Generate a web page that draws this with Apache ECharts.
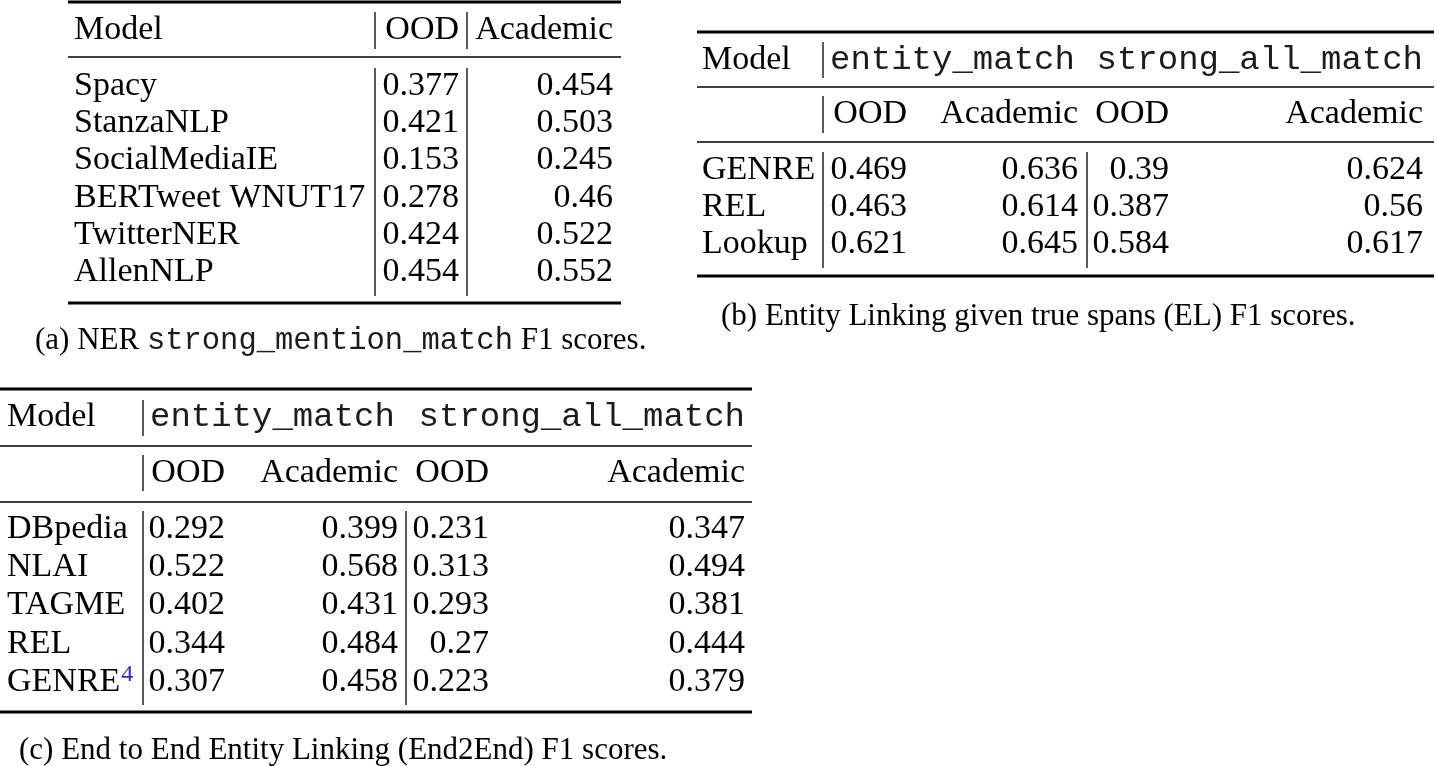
<!DOCTYPE html>
<html>
<head>
<meta charset="utf-8">
<script src="https://cdn.jsdelivr.net/npm/echarts@6/dist/echarts.min.js"></script>
<style>
html,body{margin:0;padding:0;background:#fff;}
#chart{width:1436px;height:766px;}
</style>
</head>
<body>
<div id="chart"></div>
<script>
// ---------------- DATA ----------------
const nerModels = ['Spacy', 'StanzaNLP', 'SocialMediaIE', 'BERTweet WNUT17', 'TwitterNER', 'AllenNLP'];
const nerOOD = [0.377, 0.421, 0.153, 0.278, 0.424, 0.454];
const nerAcademic = [0.454, 0.503, 0.245, 0.46, 0.522, 0.552];

const elModels = ['GENRE', 'REL', 'Lookup'];
const elEntityOOD = [0.469, 0.463, 0.621];
const elEntityAcademic = [0.636, 0.614, 0.645];
const elStrongOOD = [0.39, 0.387, 0.584];
const elStrongAcademic = [0.624, 0.56, 0.617];

const e2eModels = ['DBpedia', 'NLAI', 'TAGME', 'REL', 'GENRE'];
const e2eFootnotes = ['', '', '', '', '4'];
const e2eEntityOOD = [0.292, 0.522, 0.402, 0.344, 0.307];
const e2eEntityAcademic = [0.399, 0.568, 0.431, 0.484, 0.458];
const e2eStrongOOD = [0.231, 0.313, 0.293, 0.27, 0.223];
const e2eStrongAcademic = [0.347, 0.494, 0.381, 0.444, 0.379];

const modelHeader = 'Model';
const metricHeaders = ['entity_match', 'strong_all_match'];
const splitHeaders = ['OOD', 'Academic'];
const nerMetric = 'strong_mention_match';
const captionA = ['(a) NER ', nerMetric, ' F1 scores.'];
const captionB = '(b) Entity Linking given true spans (EL) F1 scores.';
const captionC = '(c) End to End Entity Linking (End2End) F1 scores.';

// ---------------- STYLE / LAYOUT ----------------
const SERIF = '"Liberation Serif", "Times New Roman", serif';
const MONO = '"Liberation Mono", "Courier New", monospace';
const FS = 34, FS_MONO = 34, FS_CAP = 31, FS_CAP_MONO = 30.5;
const INK = '#000';
const MONO_INK = '#1c1c1c';
const THICK = 2.8, THIN = 1.5, VLW = 1.3;

const tables = [
  { // (a)
    left: 68, right: 621, nameX: 74,
    models: nerModels, notes: null,
    rowFirst: 86, rowLast: 272,
    rules: [[2, THICK], [57, THIN], [303, THICK]],
    cols: [{ x: 459, v: nerOOD }, { x: 613, v: nerAcademic }],
    vlines: [[375, [[12, 49], [68, 296]]], [467, [[12, 49], [68, 296]]]]
  },
  { // (b)
    left: 697, right: 1434, nameX: 702,
    models: elModels, notes: null,
    rowFirst: 170, rowLast: 244,
    rules: [[32, THICK], [87, THIN], [142, THIN], [276, THICK]],
    cols: [{ x: 907, v: elEntityOOD }, { x: 1078, v: elEntityAcademic },
           { x: 1169, v: elStrongOOD }, { x: 1423, v: elStrongAcademic }],
    vlines: [[823, [[42, 78], [96, 133], [152, 268]]], [1087, [[152, 268]]]]
  },
  { // (c)
    left: 0, right: 752, nameX: 7,
    models: e2eModels, notes: e2eFootnotes,
    rowFirst: 529, rowLast: 682,
    rules: [[389, THICK], [446, THIN], [502, THIN], [712, THICK]],
    cols: [{ x: 225, v: e2eEntityOOD }, { x: 398, v: e2eEntityAcademic },
           { x: 489, v: e2eStrongOOD }, { x: 745, v: e2eStrongAcademic }],
    vlines: [[143, [[400, 436], [455, 491], [511, 705]]], [406, [[511, 705]]]]
  }
];

// ---------------- BUILD ----------------
const grid = [], xAxis = [], yAxis = [], series = [], elements = [];

function txt(x, y, text, opts) {
  elements.push({
    type: 'text', x: x, y: y, silent: true,
    style: Object.assign({
      text: text, fill: INK, fontFamily: SERIF, fontSize: FS,
      align: 'left', verticalAlign: 'middle'
    }, opts || {})
  });
}
function line(x1, y1, x2, y2, w) {
  elements.push({
    type: 'line', silent: true,
    shape: { x1: x1, y1: y1, x2: x2, y2: y2 },
    style: { stroke: INK, lineWidth: w }
  });
}

const labelBase = {
  show: true, position: 'inside', verticalAlign: 'middle',
  color: INK, fontFamily: SERIF, fontSize: FS, fontWeight: 'normal',
  opacity: 1, textBorderWidth: 0, textBorderColor: 'transparent',
  textShadowBlur: 0, textShadowColor: 'transparent'
};

tables.forEach((t, gi) => {
  const n = t.models.length;
  const band = (t.rowLast - t.rowFirst) / (n - 1);
  const W = t.right - t.left;
  grid.push({ left: t.left, top: t.rowFirst - band / 2, width: W, height: band * n });
  xAxis.push({ type: 'value', gridIndex: gi, min: 0, max: W, show: false });
  yAxis.push({ type: 'category', gridIndex: gi, inverse: true, data: t.models, show: false,
               boundaryGap: true });

  // model names
  series.push({
    type: 'scatter', xAxisIndex: gi, yAxisIndex: gi, symbolSize: 0, silent: true,
    itemStyle: { color: INK, opacity: 1 },
    data: t.models.map((m, i) => [t.nameX - t.left, i]),
    label: Object.assign({}, labelBase, {
      align: 'left',
      formatter: p => {
        const note = t.notes ? t.notes[p.dataIndex] : '';
        return note ? t.models[p.dataIndex] + '{s|' + note + '}' : t.models[p.dataIndex];
      },
      rich: { s: { fontSize: 24, color: '#2a2ad8', fontFamily: SERIF, verticalAlign: 'top',
                   lineHeight: 38, padding: [0, 0, 0, 1] } }
    })
  });
  // value columns
  t.cols.forEach(c => {
    series.push({
      type: 'scatter', xAxisIndex: gi, yAxisIndex: gi, symbolSize: 0, silent: true,
      itemStyle: { color: INK, opacity: 1 },
      data: c.v.map((v, i) => [c.x - t.left, i, v]),
      label: Object.assign({}, labelBase, {
        align: 'right',
        formatter: p => String(p.value[2])
      })
    });
  });
  // rules
  t.rules.forEach(r => line(t.left, r[0], t.right, r[0], r[1]));
  // vertical lines
  t.vlines.forEach(v => v[1].forEach(seg => line(v[0], seg[0], v[0], seg[1], VLW)));
});

// headers (a)
txt(74, 30, modelHeader);
txt(459, 30, splitHeaders[0], { align: 'right' });
txt(613, 30, splitHeaders[1], { align: 'right' });
// headers (b)
txt(702, 60, modelHeader);
txt(830, 60, metricHeaders[0], { fontFamily: MONO, fontSize: FS_MONO, fill: MONO_INK });
txt(1423, 60, metricHeaders[1], { fontFamily: MONO, fontSize: FS_MONO, fill: MONO_INK, align: 'right' });
txt(907, 114, splitHeaders[0], { align: 'right' });
txt(1078, 114, splitHeaders[1], { align: 'right' });
txt(1169, 114, splitHeaders[0], { align: 'right' });
txt(1423, 114, splitHeaders[1], { align: 'right' });
// headers (c)
txt(7, 417, modelHeader);
txt(150, 417, metricHeaders[0], { fontFamily: MONO, fontSize: FS_MONO, fill: MONO_INK });
txt(745, 417, metricHeaders[1], { fontFamily: MONO, fontSize: FS_MONO, fill: MONO_INK, align: 'right' });
txt(225, 473, splitHeaders[0], { align: 'right' });
txt(398, 473, splitHeaders[1], { align: 'right' });
txt(489, 473, splitHeaders[0], { align: 'right' });
txt(745, 473, splitHeaders[1], { align: 'right' });

// captions
txt(35, 341, '{n|' + captionA[0] + '}{m|' + captionA[1] + '}{n|' + captionA[2] + '}', {
  fontSize: FS_CAP,
  rich: {
    n: { fontFamily: SERIF, fontSize: FS_CAP, fill: INK },
    m: { fontFamily: MONO, fontSize: FS_CAP_MONO, fill: MONO_INK }
  }
});
txt(721, 317, captionB, { fontSize: FS_CAP });
txt(19, 751, captionC, { fontSize: FS_CAP });

const chart = echarts.init(document.getElementById('chart'), null, { renderer: 'canvas' });
chart.setOption({
  backgroundColor: '#fff',
  animation: false,
  grid: grid, xAxis: xAxis, yAxis: yAxis, series: series,
  graphic: { elements: elements }
});
</script>
</body>
</html>
